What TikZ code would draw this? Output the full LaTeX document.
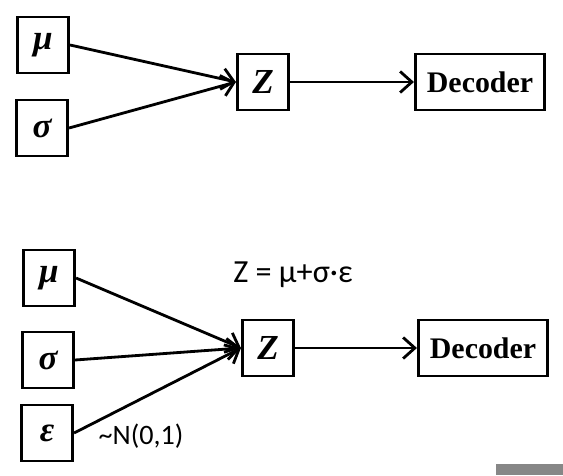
\documentclass[tikz,border=0pt]{standalone}
\usepackage{fontspec}
\setmainfont{Liberation Serif}
\newfontfamily\lblfont{Carlito}
\usetikzlibrary{arrows.meta}
\begin{document}
\begin{tikzpicture}[x=.03cm,y=-.03cm,line width=2.4pt,
  every node/.append style={font=\bfseries\fontsize{25.5}{28}\selectfont},
  box/.style={draw,minimum width=1.54cm,minimum height=1.68cm,inner sep=0pt,
    font=\bfseries\itshape\fontsize{30}{32}\selectfont},
  decbox/.style={draw,minimum width=3.88cm,minimum height=1.68cm,inner sep=0pt},
  lbl/.style={font=\lblfont\fontsize{27.5}{30}\selectfont},
  link/.style={-{Straight Barb[length=10pt,width=18pt,line width=2.4pt]}}]
  \useasboundingbox (0,0) rectangle (563,475);
  % top: plain sampling
  \node[box](mu1)at(43,45){μ};
  \node[box](sg1)at(42,128){σ};
  \node[box](z1)at(263,82){Z};
  \node[decbox](dec1)at(480,82){Decoder};
  \draw[link](mu1.east)--(z1.west);
  \draw[link](sg1.east)--(z1.west);
  \draw[link](z1.east)--(dec1.west);
  % bottom: reparametrised
  \node[box](mu2)at(49,278){μ};
  \node[box](sg2)at(48,360){σ};
  \node[box](ep2)at(47,433){ε};
  \node[box](z2)at(268,348){Z};
  \node[decbox](dec2)at(483,348){Decoder};
  \draw[link](mu2.east)--(z2.west);
  \draw[link](sg2.east)--(z2.west);
  \draw[link](ep2.east)--(z2.west);
  \draw[link](z2.east)--(dec2.west);
  \node[lbl](rule)at(293,275){Z = μ+σ·ε};
  \node[lbl,font=\lblfont\fontsize{24}{26}\selectfont](dist)at(141,436){\textasciitilde N(0,1)};
  \fill[black!47](496,464)rectangle(563,475);
\end{tikzpicture}
\end{document}
